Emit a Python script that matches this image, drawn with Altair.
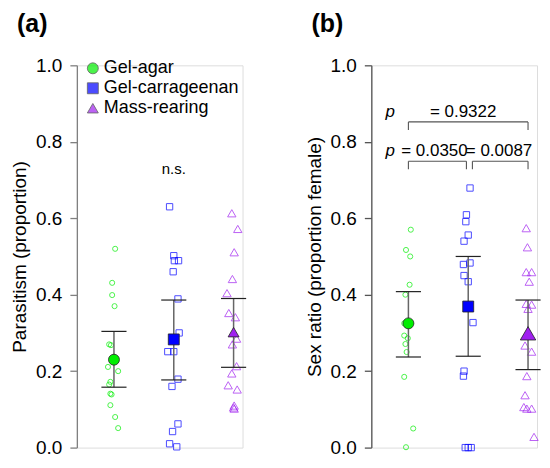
import altair as alt
import pandas as pd

groups = ["Gel-agar", "Gel-carrageenan", "Mass-rearing"]
colors = ["#00ee00", "#0000ff", "#a020f0"]
shapes = ["circle", "square", "triangle-up"]

# (a) Parasitism (proportion)
par_agar = [0.520, 0.431, 0.399, 0.370, 0.270, 0.268, 0.211, 0.200, 0.172, 0.165, 0.141, 0.139, 0.111, 0.080, 0.051]
par_agar_jit = [0.02, -0.03, -0.03, 0.01, -0.08, -0.05, -0.10, 0.07, -0.06, -0.08, -0.06, -0.04, -0.06, 0.02, 0.07]
par_carr = [0.630, 0.502, 0.489, 0.489, 0.460, 0.389, 0.300, 0.251, 0.251, 0.179, 0.160, 0.062, 0.042, 0.010, 0.002]
par_carr_jit = [-0.07, 0.0, 0.01, 0.08, -0.01, 0.07, 0.09, -0.10, 0.0, 0.07, -0.03, 0.07, -0.02, -0.07, 0.05]
par_mass = [0.613, 0.572, 0.511, 0.441, 0.404, 0.352, 0.341, 0.285, 0.270, 0.213, 0.194, 0.163, 0.152, 0.110, 0.105, 0.102]
par_mass_jit = [-0.03, 0.07, 0.01, -0.02, -0.11, -0.08, 0.03, 0.05, -0.02, 0.05, -0.03, -0.09, 0.06, 0.01, 0.0, 0.01]
par_mean = [0.230, 0.283, 0.302]
par_lo = [0.158, 0.177, 0.210]
par_hi = [0.304, 0.386, 0.390]

# (b) Sex ratio (proportion female)
sex_agar = [0.570, 0.517, 0.500, 0.426, 0.400, 0.325, 0.293, 0.286, 0.271, 0.250, 0.185, 0.050, 0.001]
sex_agar_jit = [0.04, -0.04, 0.03, 0.02, -0.05, -0.07, -0.07, -0.01, -0.05, -0.03, -0.07, 0.08, -0.04]
sex_carr = [0.679, 0.609, 0.591, 0.556, 0.540, 0.483, 0.479, 0.450, 0.434, 0.327, 0.200, 0.187, 0.0, 0.0, 0.0]
sex_carr_jit = [0.03, -0.03, -0.04, 0.0, -0.07, 0.03, -0.08, -0.07, 0.0, 0.08, -0.07, -0.08, -0.05, 0.0, 0.05]
sex_mass = [0.574, 0.524, 0.459, 0.459, 0.434, 0.376, 0.374, 0.363, 0.267, 0.251, 0.187, 0.137, 0.106, 0.102, 0.102, 0.028]
sex_mass_jit = [-0.03, -0.01, -0.03, 0.06, 0.02, -0.03, 0.06, 0.0, -0.05, 0.06, -0.02, -0.05, -0.07, -0.02, 0.06, 0.10]
sex_mean = [0.325, 0.369, 0.299]
sex_lo = [0.237, 0.239, 0.204]
sex_hi = [0.408, 0.500, 0.386]

# significance annotations for (b)
br_x1 = [1.0, 1.0, 2.07]
br_x2 = [3.0, 1.97, 3.0]
br_y = [0.852, 0.749, 0.749]
br_drop = 0.021
pv_text = ["= 0.9322", "= 0.0350", "= 0.0087"]
pv_x = [1.36, 0.88, 1.96]
pv_y = [0.877, 0.775, 0.775]
p_label_x = 0.695
ns_text = "n.s."
ns_y = 0.728

FONT = "Liberation Sans"
pt_size = {"circle": 26, "square": 40, "triangle-up": 70}
mean_size = {"circle": 120, "square": 120, "triangle-up": 240}
CAP = 0.21
XDOM = [0.38, 3.15]
W = 166
H = 383


def points_df(series, jitters):
    rows = []
    for gi, (vals, jits) in enumerate(zip(series, jitters)):
        for v, j in zip(vals, jits):
            rows.append({"x": gi + 1 + j, "y": v, "group": groups[gi],
                         "col": colors[gi], "shp": shapes[gi], "sz": pt_size[shapes[gi]]})
    return pd.DataFrame(rows)


def summary_df(means, los, his):
    return pd.DataFrame({
        "x": [i + 1 for i in range(3)],
        "xl": [i + 1 - CAP for i in range(3)],
        "xr": [i + 1 + CAP for i in range(3)],
        "mean": means, "lo": los, "hi": his, "group": groups,
        "col": colors, "shp": shapes, "msz": [mean_size[s] for s in shapes],
    })


def yaxis(title, dcol):
    return alt.Axis(values=[0, 0.2, 0.4, 0.6, 0.8, 1.0], format=".1f", grid=False,
                    tickSize=7, tickColor=dcol, domainColor=dcol, domainWidth=1.3, tickWidth=1.3,
                    labelFontSize=19, labelFont=FONT, labelColor="black", labelPadding=8,
                    titleFontSize=19, titleFont=FONT, titleFontWeight="normal", titleColor="black",
                    titlePadding=6, title=title)


def panel(series, jitters, means, los, his, ytitle, ptitle, dcol, legend, extra):
    pdf = points_df(series, jitters)
    sdf = summary_df(means, los, his)
    yscale = alt.Scale(domain=[0, 1])
    xenc = alt.X("x:Q", scale=alt.Scale(domain=XDOM), axis=None)
    ax = yaxis(ytitle, dcol)

    pts = alt.Chart(pdf).mark_point(filled=False, strokeWidth=1, opacity=0.7).encode(
        x=xenc,
        y=alt.Y("y:Q", scale=yscale, axis=ax, title=ytitle),
        color=alt.Color("col:N", scale=None),
        shape=alt.Shape("shp:N", scale=None),
        size=alt.Size("sz:Q", scale=None),
    )
    vbar = alt.Chart(sdf).mark_rule(color="#666666", strokeWidth=1.5).encode(
        x=xenc,
        y=alt.Y("lo:Q", scale=yscale, axis=ax, title=ytitle),
        y2="hi:Q",
    )
    cap_lo = alt.Chart(sdf).mark_rule(color="#222222", strokeWidth=1.2).encode(
        x=alt.X("xl:Q", scale=alt.Scale(domain=XDOM), axis=None), x2="xr:Q",
        y=alt.Y("lo:Q", scale=yscale, axis=ax, title=ytitle),
    )
    cap_hi = alt.Chart(sdf).mark_rule(color="#222222", strokeWidth=1.2).encode(
        x=alt.X("xl:Q", scale=alt.Scale(domain=XDOM), axis=None), x2="xr:Q",
        y=alt.Y("hi:Q", scale=yscale, axis=ax, title=ytitle),
    )
    if legend:
        leg = alt.Legend(title=None, orient="none", legendX=7, legendY=-6,
                         labelFontSize=18, labelFont=FONT, labelColor="black",
                         symbolSize=100, symbolStrokeColor="#222222", symbolStrokeWidth=0.8,
                         rowPadding=2, labelOffset=2, padding=0)
        cenc = alt.Color("group:N", scale=alt.Scale(domain=groups, range=colors), legend=leg)
        senc = alt.Shape("group:N", scale=alt.Scale(domain=groups, range=shapes), legend=leg)
        zenc = alt.Size("group:N", scale=alt.Scale(domain=groups, range=[mean_size[s] for s in shapes]), legend=None)
    else:
        cenc = alt.Color("col:N", scale=None)
        senc = alt.Shape("shp:N", scale=None)
        zenc = alt.Size("msz:Q", scale=None)
    mpts = alt.Chart(sdf).mark_point(filled=True, opacity=1, stroke="#222222", strokeWidth=0.8).encode(
        x=xenc,
        y=alt.Y("mean:Q", scale=yscale, axis=ax, title=ytitle),
        color=cenc, shape=senc, size=zenc,
    )
    layers = [pts, vbar, cap_lo, cap_hi, mpts] + extra
    return alt.layer(*layers).properties(
        width=W, height=H,
        title=alt.TitleParams(ptitle, anchor="start", frame="group", dx=-60, fontSize=25,
                              fontWeight="bold", font=FONT, color="black", offset=19),
    )


# annotations
xs = alt.Scale(domain=XDOM)
ys = alt.Scale(domain=[0, 1])
ns_df = pd.DataFrame({"x": [2], "y": [ns_y], "t": [ns_text]})
ns_layer = alt.Chart(ns_df).mark_text(font=FONT, fontSize=15, color="black", baseline="middle").encode(
    x=alt.X("x:Q", scale=xs, axis=None), y=alt.Y("y:Q", scale=ys), text="t:N")

br_df = pd.DataFrame({"x1": br_x1, "x2": br_x2, "y": br_y})
drop_df = pd.DataFrame({
    "x": br_x1 + br_x2,
    "y": br_y + br_y,
    "yb": [v - br_drop for v in br_y + br_y],
})
br_h = alt.Chart(br_df).mark_rule(color="#555555", strokeWidth=1.1).encode(
    x=alt.X("x1:Q", scale=xs, axis=None), x2="x2:Q", y=alt.Y("y:Q", scale=ys))
br_v = alt.Chart(drop_df).mark_rule(color="#555555", strokeWidth=1.1).encode(
    x=alt.X("x:Q", scale=xs, axis=None), y=alt.Y("y:Q", scale=ys), y2="yb:Q")
pv_df = pd.DataFrame({"x": pv_x, "y": pv_y, "t": pv_text})
pv_layer = alt.Chart(pv_df).mark_text(font=FONT, fontSize=17, color="black", align="left", baseline="middle").encode(
    x=alt.X("x:Q", scale=xs, axis=None), y=alt.Y("y:Q", scale=ys), text="t:N")
p_df = pd.DataFrame({"x": [p_label_x, p_label_x], "y": [pv_y[0], pv_y[1]], "t": ["p", "p"]})
p_layer = alt.Chart(p_df).mark_text(font=FONT, fontSize=17, fontStyle="italic", color="black", baseline="middle").encode(
    x=alt.X("x:Q", scale=xs, axis=None), y=alt.Y("y:Q", scale=ys), text="t:N")

left = panel([par_agar, par_carr, par_mass], [par_agar_jit, par_carr_jit, par_mass_jit],
             par_mean, par_lo, par_hi, "Parasitism (proportion)", "(a)", "#808080", True, [ns_layer])
right = panel([sex_agar, sex_carr, sex_mass], [sex_agar_jit, sex_carr_jit, sex_mass_jit],
              sex_mean, sex_lo, sex_hi, "Sex ratio (proportion female)", "(b)", "#555555", False,
              [br_h, br_v, pv_layer, p_layer])

chart = alt.hconcat(left, right, spacing=57).properties(
    padding={"left": 2, "top": 3, "right": 0, "bottom": 0}
).configure_view(stroke=None).configure(background="white")

chart.save("out.html", embed_options={"renderer": "svg", "actions": False})
